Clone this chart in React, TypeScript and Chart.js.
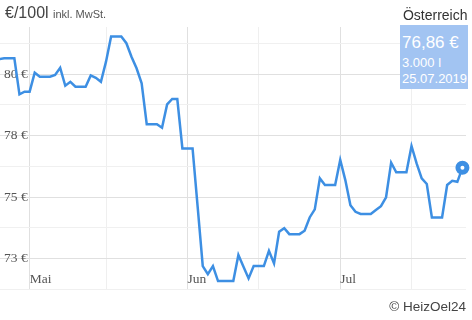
import React, { useEffect, useRef } from 'react';
import { Chart, registerables } from 'chart.js';

Chart.register(...registerables);

// ---- data ----
const START_DATE = '2019-04-25';
const REF_DATE = '2019-05-01';
const prices = [
  80.61, 80.65, 80.65, 80.65, 79.18, 79.29, // Apr 25-30
  79.29, 80.06, 79.9, 79.9, 79.9, 79.97, 80.26, 79.53, 79.69, 79.49, // May 1-10
  79.49, 79.49, 79.95, 79.85, 79.69, 80.51, 81.53, 81.53, 81.53, 81.26, // May 11-20
  80.71, 80.24, 79.63, 77.96, 77.96, 77.96, 77.82, 78.77, 78.99, 78.99, // May 21-30
  76.98, // May 31
  76.98, 76.98, 74.6, 72.19, 71.86, 72.19, 71.58, 71.58, 71.58, 71.58, // Jun 1-10
  72.64, 72.16, 71.69, 72.19, 72.19, 72.19, 72.81, 72.3, 73.59, 73.73, // Jun 11-20
  73.49, 73.49, 73.49, 73.63, 74.17, 74.5, 75.76, 75.49, 75.49, 75.49, // Jun 21-30
  76.51, 75.69, 74.67, 74.4, 74.31, 74.31, 74.31, 74.47, 74.63, 74.99, // Jul 1-10
  76.4, 76.01, 76.01, 76.01, 77.08, 76.37, 75.76, 75.53, 74.17, 74.17, // Jul 11-20
  74.17, 75.49, 75.66, 75.62, 76.19, // Jul 21-25
];
const xTickDates = ['2019-05-01', '2019-05-16', '2019-06-01', '2019-06-15', '2019-07-01', '2019-07-15'];
const xTickLabels = ['Mai', '', 'Jun', '', 'Jul', ''];
const yTickValues = [71.25, 72.5, 73.75, 75, 76.25, 77.5, 78.75, 80, 81.25];
const yTickLabels = ['', '73 €', '', '75 €', '', '78 €', '', '80 €', ''];
const unitLabel = '€/100l';
const unitNote = 'inkl. MwSt.';
const regionLabel = 'Österreich';
const currentPrice = '76,86 €';
const currentAmount = '3.000 l';
const currentDate = '25.07.2019';
const creditLabel = '© HeizOel24';

const DAY = 86400000;
const dayOffset = (iso: string) => (Date.parse(iso) - Date.parse(REF_DATE)) / DAY;

const LINE = '#3d8fe3';
const SERIF = "'Liberation Serif', 'Times New Roman', serif";
const SANS = "'Liberation Sans', Arial, sans-serif";

export default function App() {
  const ref = useRef<HTMLCanvasElement | null>(null);

  useEffect(() => {
    const canvas = ref.current;
    if (!canvas) return;
    const start = dayOffset(START_DATE);
    const points = prices.map((v, i) => ({ x: start + i, y: v }));
    const last = points.length - 1;
    const xTicks = xTickDates.map(dayOffset);

    const chart = new Chart(canvas, {
      type: 'line',
      data: {
        datasets: [
          {
            data: points,
            borderColor: LINE,
            borderWidth: 2.5,
            tension: 0,
            clip: false as any,
            pointRadius: (ctx: any) => (ctx.dataIndex === last ? 4.5 : 0),
            pointHoverRadius: 0,
            pointBorderWidth: 5,
            pointBorderColor: LINE,
            pointBackgroundColor: '#ffffff',
          },
        ],
      },
      options: {
        animation: false,
        responsive: false,
        devicePixelRatio: 1,
        events: [],
        layout: { autoPadding: false, padding: { left: 0, right: 6, top: 27, bottom: 30.8 } },
        plugins: { legend: { display: false }, tooltip: { enabled: false }, title: { display: false } },
        scales: {
          x: {
            type: 'linear',
            min: -5.82,
            max: 85.7,
            border: { display: false },
            grid: {
              drawTicks: false,
              lineWidth: 1,
              color: (ctx: any) => {
                const i = xTicks.indexOf(ctx.tick?.value);
                return i >= 0 && xTickLabels[i] ? '#e0e0e0' : '#efefef';
              },
            },
            afterBuildTicks: (axis: any) => {
              axis.ticks = xTicks.map((v) => ({ value: v }));
            },
            afterFit: (axis: any) => {
              axis.height = 0;
            },
            ticks: {
              autoSkip: false,
              maxRotation: 0,
              minRotation: 0,
              align: 'start',
              mirror: true,
              padding: 1.5,
              color: '#555555',
              font: { family: SERIF, size: 13.5 },
              callback: (value: any) => {
                const i = xTicks.indexOf(Number(value));
                return i >= 0 ? xTickLabels[i] : '';
              },
            },
          },
          y: {
            type: 'linear',
            min: 71.25,
            max: 81.92,
            border: { display: false },
            grid: {
              drawTicks: false,
              lineWidth: 1,
              color: (ctx: any) => {
                const i = yTickValues.indexOf(ctx.tick?.value);
                return i >= 0 && yTickLabels[i] ? '#e0e0e0' : '#f0f0f0';
              },
            },
            afterBuildTicks: (axis: any) => {
              axis.ticks = yTickValues.map((v) => ({ value: v }));
            },
            afterFit: (axis: any) => {
              axis.width = 0;
            },
            ticks: {
              mirror: true,
              crossAlign: 'far',
              padding: 4,
              autoSkip: false,
              color: '#555555',
              font: { family: SERIF, size: 13.5 },
              callback: (value: any) => {
                const i = yTickValues.indexOf(Number(value));
                return i >= 0 ? yTickLabels[i] : '';
              },
            },
          },
        },
      },
    } as any);
    return () => chart.destroy();
  }, []);

  const abs = (extra: React.CSSProperties): React.CSSProperties => ({
    position: 'absolute',
    whiteSpace: 'nowrap',
    fontFamily: SANS,
    ...extra,
  });

  return (
    <div style={{ position: 'absolute', left: 0, top: 0, width: 472, height: 320, background: '#ffffff', overflow: 'hidden' }}>
      <canvas ref={ref} width={472} height={320} style={{ position: 'absolute', left: 0, top: 0, width: 472, height: 320 }} />
      <div style={abs({ left: 5, top: 4.5, fontSize: 16, lineHeight: '16px', color: '#444' })}>{unitLabel}</div>
      <div style={abs({ left: 53, top: 8.7, fontSize: 11, lineHeight: '11px', color: '#555' })}>{unitNote}</div>
      <div style={abs({ right: 4.5, top: 7.5, fontSize: 14, lineHeight: '14px', color: '#333' })}>{regionLabel}</div>
      <div style={abs({ left: 400, top: 25, width: 68, height: 64, background: '#a2c4f2' })} />
      <div style={abs({ left: 402, top: 33.9, fontSize: 17, lineHeight: '17px', color: '#ffffff' })}>{currentPrice}</div>
      <div style={abs({ left: 402, top: 55.7, fontSize: 13, lineHeight: '13px', color: '#ffffff' })}>{currentAmount}</div>
      <div style={abs({ left: 402, top: 72.3, fontSize: 13, lineHeight: '13px', color: '#ffffff' })}>{currentDate}</div>
      <div style={abs({ right: 6, top: 299.6, fontSize: 13.5, lineHeight: '13.5px', color: '#444' })}>{creditLabel}</div>
    </div>
  );
}
